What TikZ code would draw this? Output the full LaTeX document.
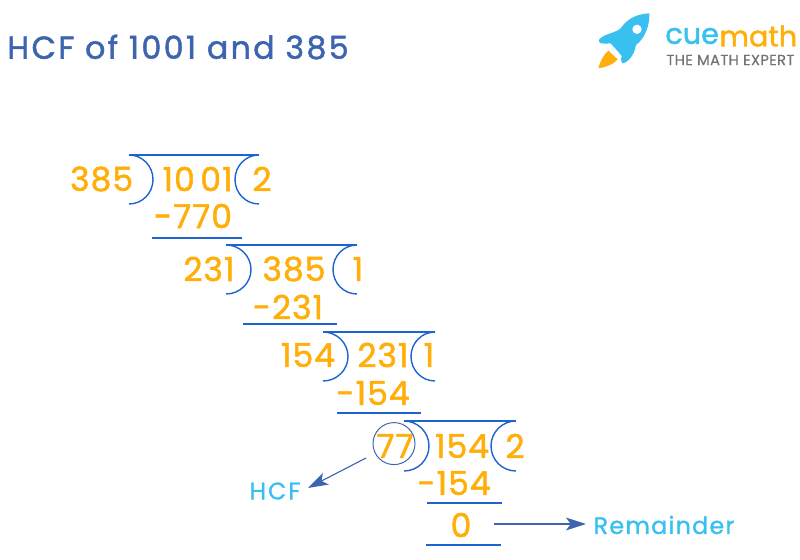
\documentclass[tikz,border=0pt]{standalone}
\usepackage{fontspec}
\setmainfont{Poppins}
\usepackage{tikz}
\usetikzlibrary{arrows.meta}
\definecolor{numorange}{HTML}{FFAE0A}
\definecolor{lineblue}{HTML}{1F63D0}
\definecolor{titleblue}{HTML}{3D64AE}
\definecolor{skyblue}{HTML}{38C0F0}
\tikzset{empty/.style={draw=none, fill=none, minimum size=0mm, inner sep=0mm}}
\tikzset{num/.style={empty, text=numorange, font=\fontsize{23.5}{24}\selectfont\addfontfeatures{LetterSpace=3,FakeBold=1.5}}}
\tikzset{rule/.style={draw=lineblue, line width=1pt}}
\tikzset{pointer/.style={draw=titleblue, line width=0.8pt, -{Stealth[length=5mm, width=3.2mm, inset=1.2mm]}}}

\begin{document}
\begin{tikzpicture}
    \useasboundingbox (0cm, 0cm) rectangle (20cm, 14cm);

    \node (title) [empty, text=titleblue, font=\fontsize{22.5}{23}\selectfont\addfontfeatures{LetterSpace=7.5,FakeBold=1.5}] at (4.45cm, 12.825cm) {HCF of 1001 and 385};

    % logo
    \begin{scope}[shift={(14.5cm, 14cm)}, x=0.00833cm, y=-0.00833cm]
        \fill [skyblue] (208,40) .. controls (175,42) and (145,52) .. (122,85)
            .. controls (105,100) and (75,100) .. (58,118)
            .. controls (52,128) and (60,133) .. (92,130)
            .. controls (105,145) and (115,155) .. (125,168)
            .. controls (120,190) and (128,195) .. (140,185)
            .. controls (160,170) and (165,150) .. (168,135)
            .. controls (195,115) and (210,75) .. (208,40) -- cycle;
        \fill [numorange] (55,205) .. controls (60,185) and (70,165) .. (85,152)
            -- (113,178) .. controls (100,195) and (75,202) .. (55,205) -- cycle;
        \fill [white] (171,88) circle (14);
    \end{scope}
    \node (cue) [empty, text=skyblue, font=\fontsize{20.4}{21}\selectfont\addfontfeatures{FakeBold=1.5}, anchor=east] at (17.98cm, 13.1cm) {cue};
    \node (math) [empty, text=numorange, font=\fontsize{20.4}{21}\selectfont\addfontfeatures{FakeBold=1.5}, anchor=west] at (cue.east) {math};
    \node (expert) [empty, text=black!55, font=\fontsize{10.5}{10.5}\selectfont\addfontfeatures{LetterSpace=2,FakeBold=0.5}] at (18.26cm, 12.5cm) {THE MATH EXPERT};

    % first step
    \node (d1) [num] at (2.54cm, 9.525cm) {385};
    \node (n1) [num] at (4.94cm, 9.525cm) {10\,01};
    \node (q1) [num] at (6.55cm, 9.525cm) {2};
    \node (s1) [num] at (4.825cm, 8.6cm) {-770};

    \coordinate (a1) at (3.225cm, 10.125cm);
    \coordinate (b1) at (6.475cm, 10.125cm);
    \coordinate (c1) at (3.225cm, 8.9cm);
    \coordinate (e1) at (6.475cm, 8.9cm);
    \coordinate (l1) at (3.825cm, 9.5125cm);
    \coordinate (r1) at (5.875cm, 9.5125cm);
    \coordinate (u1) at (3.8cm, 8.05cm);
    \coordinate (v1) at (6.05cm, 8.05cm);

    \draw [rule] (a1) -- (b1);
    \draw [rule] (a1) to [out=0, in=90] (l1) to [out=-90, in=0] (c1);
    \draw [rule] (b1) to [out=180, in=90] (r1) to [out=-90, in=180] (e1);
    \draw [rule] (u1) -- (v1);

    % second step
    \node (d2) [num] at (5.225cm, 7.275cm) {231};
    \node (n2) [num] at (7.35cm, 7.275cm) {385};
    \node (q2) [num] at (8.95cm, 7.275cm) {1};
    \node (s2) [num] at (7.2cm, 6.325cm) {-231};

    \coordinate (a2) at (5.65cm, 7.875cm);
    \coordinate (b2) at (8.925cm, 7.875cm);
    \coordinate (c2) at (5.65cm, 6.65cm);
    \coordinate (e2) at (8.925cm, 6.65cm);
    \coordinate (l2) at (6.275cm, 7.2625cm);
    \coordinate (r2) at (8.325cm, 7.2625cm);
    \coordinate (u2) at (6.075cm, 5.9cm);
    \coordinate (v2) at (8.425cm, 5.9cm);

    \draw [rule] (a2) -- (b2);
    \draw [rule] (a2) to [out=0, in=90] (l2) to [out=-90, in=0] (c2);
    \draw [rule] (b2) to [out=180, in=90] (r2) to [out=-90, in=180] (e2);
    \draw [rule] (u2) -- (v2);

    % third step
    \node (d3) [num] at (7.7cm, 5.125cm) {154};
    \node (n3) [num] at (9.575cm, 5.125cm) {231};
    \node (q3) [num] at (10.725cm, 5.125cm) {1};
    \node (s3) [num] at (9.325cm, 4.175cm) {-154};

    \coordinate (a3) at (8.075cm, 5.7cm);
    \coordinate (b3) at (10.875cm, 5.7cm);
    \coordinate (c3) at (8.075cm, 4.475cm);
    \coordinate (e3) at (10.875cm, 4.475cm);
    \coordinate (l3) at (8.7cm, 5.0875cm);
    \coordinate (r3) at (10.275cm, 5.0875cm);
    \coordinate (u3) at (8.425cm, 3.675cm);
    \coordinate (v3) at (10.525cm, 3.675cm);

    \draw [rule] (a3) -- (b3);
    \draw [rule] (a3) to [out=0, in=90] (l3) to [out=-90, in=0] (c3);
    \draw [rule] (b3) to [out=180, in=90] (r3) to [out=-90, in=180] (e3);
    \draw [rule] (u3) -- (v3);

    % last step
    \node (d4) [num] at (9.875cm, 2.85cm) {77};
    \node (n4) [num] at (11.55cm, 2.85cm) {154};
    \node (q4) [num] at (12.875cm, 2.85cm) {2};
    \node (s4) [num] at (11.35cm, 1.925cm) {-154};
    \node (rem) [num] at (11.525cm, 0.875cm) {0};

    \coordinate (a4) at (10.1cm, 3.475cm);
    \coordinate (b4) at (12.9cm, 3.475cm);
    \coordinate (c4) at (10.1cm, 2.225cm);
    \coordinate (e4) at (12.9cm, 2.225cm);
    \coordinate (l4) at (10.725cm, 2.85cm);
    \coordinate (r4) at (12.275cm, 2.85cm);
    \coordinate (u4) at (10.675cm, 1.425cm);
    \coordinate (v4) at (12.55cm, 1.425cm);
    \coordinate (w4) at (10.65cm, 0.375cm);
    \coordinate (x4) at (12.525cm, 0.375cm);

    \draw [rule] (a4) -- (b4);
    \draw [rule] (a4) to [out=0, in=90] (l4) to [out=-90, in=0] (c4);
    \draw [rule] (b4) to [out=180, in=90] (r4) to [out=-90, in=180] (e4);
    \draw [rule] (u4) -- (v4);
    \draw [rule] (w4) -- (x4);

    \node (ring) [draw=titleblue, line width=0.7pt, circle, minimum size=1.05cm, inner sep=0mm] at (9.85cm, 2.91cm) {};

    % labels
    \node (hcf) [empty, text=skyblue, font=\fontsize{17}{17}\selectfont\addfontfeatures{LetterSpace=8,FakeBold=1.2}] at (6.875cm, 1.725cm) {HCF};
    \node (remlabel) [empty, text=skyblue, font=\fontsize{17}{17}\selectfont\addfontfeatures{LetterSpace=5,FakeBold=1.2}] at (16.6cm, 0.875cm) {Remainder};

    \coordinate (p1) at (9.15cm, 2.55cm);
    \coordinate (p2) at (7.7cm, 1.8cm);
    \coordinate (p3) at (12.35cm, 0.9cm);
    \coordinate (p4) at (14.65cm, 0.9cm);

    \draw [pointer] (p1) -- (p2);
    \draw [pointer] (p3) -- (p4);
\end{tikzpicture}
\end{document}
